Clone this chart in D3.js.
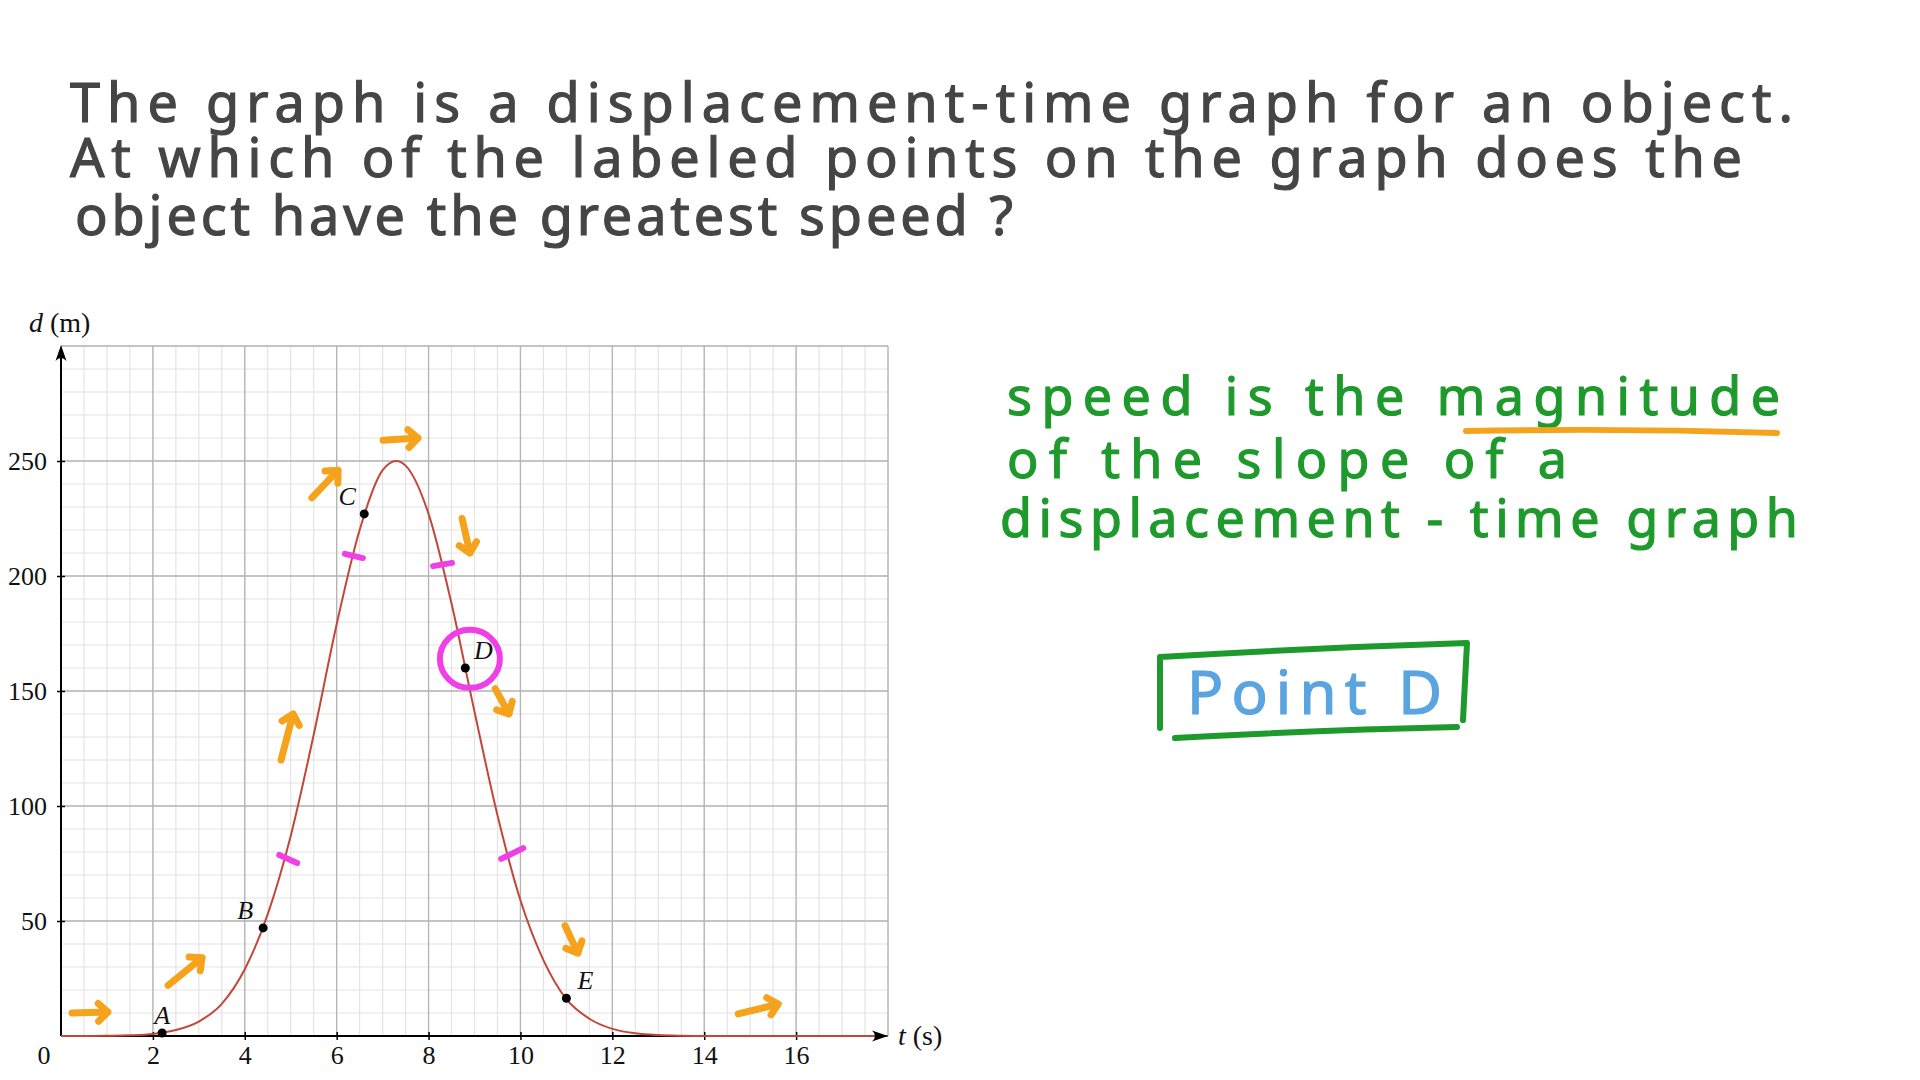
<!DOCTYPE html>
<html>
<head>
<meta charset="utf-8">
<script src="https://cdn.jsdelivr.net/npm/d3@7"></script>
<style>
  body { margin: 0; background: #fff; }
  svg { display: block; }
</style>
</head>
<body>
<svg id="chart"></svg>
<script>
// curve (t in s, d in m)
var times = [0, 0.5, 1, 1.5, 2, 2.5, 3, 3.5, 4, 4.5, 5, 5.5, 6, 6.5, 7, 7.3, 7.5, 8, 8.5, 9, 9.5, 10, 10.5, 11, 11.5, 12, 12.5, 13, 13.5, 14, 15, 16, 17, 18];
var displacement = [0, 0, 0.1, 0.3, 0.9, 2.6, 6.3, 14, 29, 53, 87, 131, 179, 220, 246, 250, 248, 227, 188, 141, 96, 59, 33, 16, 7.5, 3.1, 1.2, 0.4, 0.1, 0, 0, 0, 0, 0];

// labeled points
var pointNames = ["A", "B", "C", "D", "E"];
var pointTimes = [2.2, 4.4, 6.6, 8.8, 11];
var pointValues = [1.3, 47, 227, 160, 16.4];

// ticks
var xTicks = [2, 4, 6, 8, 10, 12, 14, 16];
var yTicks = [50, 100, 150, 200, 250];

// texts
var questionLines = [
  "The graph is a displacement-time graph for an object.",
  "At which of the labeled points on the graph does the",
  "object have the greatest speed ?"
];
var noteLines = [
  "speed is the magnitude",
  "of the slope of a",
  "displacement - time graph"
];
var answerText = "Point D";

// hand-drawn marks, in data units (t, d)
var arrowFrom = [[0.24, 10], [2.33, 22], [4.79, 120], [5.46, 234], [7.01, 259], [8.73, 225], [9.45, 151], [10.97, 48], [14.74, 9.6]];
var arrowTo   = [[1.02, 10.4], [3.07, 34], [5.05, 140], [6.03, 246], [7.77, 260], [8.9, 210], [9.75, 140], [11.25, 36], [15.61, 13.9]];
var dashFrom = [[6.18, 209.6], [8.10, 204.3], [4.75, 78.7], [9.58, 77]];
var dashTo   = [[6.57, 207.8], [8.51, 205.7], [5.14, 75.2], [10.06, 81.7]];
var ringAt = [8.9, 164];

var W = 1920, H = 1080;
var svg = d3.select("#chart").attr("width", W).attr("height", H);

var x = d3.scaleLinear().domain([0, 18]).range([61, 888]);
var y = d3.scaleLinear().domain([0, 300]).range([1036, 346]);

var serif = "'Liberation Serif', 'DejaVu Serif', serif";
var hand = "'Noto Sans', 'Lato', sans-serif";

// grid
var grid = svg.append("g");
grid.selectAll(".vmin").data(d3.range(0, 18.01, 0.5)).enter().append("line")
  .attr("x1", d => x(d)).attr("x2", d => x(d))
  .attr("y1", y(0)).attr("y2", y(300))
  .attr("stroke", "#e4e4e4").attr("stroke-width", 1.2);
grid.selectAll(".hmin").data(d3.range(0, 300.1, 10)).enter().append("line")
  .attr("x1", x(0)).attr("x2", x(18))
  .attr("y1", d => y(d)).attr("y2", d => y(d))
  .attr("stroke", "#e4e4e4").attr("stroke-width", 1.2);
grid.selectAll(".vmaj").data(d3.range(2, 18.01, 2)).enter().append("line")
  .attr("x1", d => x(d)).attr("x2", d => x(d))
  .attr("y1", y(0)).attr("y2", y(300))
  .attr("stroke", "#b4b4b4").attr("stroke-width", 1.3);
grid.selectAll(".hmaj").data(d3.range(50, 300.1, 50)).enter().append("line")
  .attr("x1", x(0)).attr("x2", x(18))
  .attr("y1", d => y(d)).attr("y2", d => y(d))
  .attr("stroke", "#b4b4b4").attr("stroke-width", 1.3);

// axes
var xAxis = svg.append("g")
  .attr("transform", "translate(0," + (y(0) - 4) + ")")
  .call(d3.axisBottom(x).tickValues(xTicks).tickSizeInner(8).tickSizeOuter(0).tickPadding(6));
var yAxis = svg.append("g")
  .attr("transform", "translate(" + (x(0) + 4) + ",0)")
  .call(d3.axisLeft(y).tickValues(yTicks).tickSizeInner(8).tickSizeOuter(0).tickPadding(10));
[xAxis, yAxis].forEach(function(a) {
  a.select(".domain").remove();
  a.selectAll(".tick line").attr("stroke", "#000").attr("stroke-width", 1.5);
  a.selectAll("text").attr("font-family", serif).attr("font-size", 26).attr("fill", "#111");
});
svg.append("text").attr("x", 44).attr("y", 1064)
  .attr("text-anchor", "middle").attr("font-family", serif).attr("font-size", 26).attr("fill", "#111")
  .text("0");

svg.append("line").attr("x1", x(0)).attr("x2", x(18) - 8).attr("y1", y(0)).attr("y2", y(0))
  .attr("stroke", "#000").attr("stroke-width", 2);
svg.append("line").attr("x1", x(0)).attr("x2", x(0)).attr("y1", y(0)).attr("y2", y(300) + 8)
  .attr("stroke", "#000").attr("stroke-width", 2);

// curve
var line = d3.line().x(d => x(d[0])).y(d => y(d[1])).curve(d3.curveMonotoneX);
svg.append("path")
  .datum(times.map((t, i) => [t, displacement[i]]))
  .attr("d", line)
  .attr("fill", "none").attr("stroke", "#c2473a").attr("stroke-width", 2);

// arrowheads on axes
var head = "M0,0 L-16,-5.5 Q-10,0 -16,5.5 Z";
svg.append("path").attr("d", head).attr("fill", "#000")
  .attr("transform", "translate(" + x(18) + "," + y(0) + ")");
svg.append("path").attr("d", head).attr("fill", "#000")
  .attr("transform", "translate(" + x(0) + "," + (y(300) - 1) + ") rotate(-90)");

// axis titles
var yt = svg.append("text").attr("x", 29).attr("y", 332)
  .attr("font-family", serif).attr("font-size", 28).attr("fill", "#111");
yt.append("tspan").attr("font-style", "italic").text("d");
yt.append("tspan").text(" (m)");
var xt = svg.append("text").attr("x", 898).attr("y", 1045)
  .attr("font-family", serif).attr("font-size", 28).attr("fill", "#111");
xt.append("tspan").attr("font-style", "italic").text("t");
xt.append("tspan").text(" (s)");

// points and labels
var labelDx = [0, -18, -17, 18, 19];
var labelDy = [-9, -9, -9, -9, -9];
svg.selectAll(".pt").data(pointNames).enter().append("circle")
  .attr("cx", (d, i) => x(pointTimes[i])).attr("cy", (d, i) => y(pointValues[i]))
  .attr("r", 4.5).attr("fill", "#000");
svg.selectAll(".ptl").data(pointNames).enter().append("text")
  .attr("x", (d, i) => x(pointTimes[i]) + labelDx[i])
  .attr("y", (d, i) => y(pointValues[i]) + labelDy[i])
  .attr("text-anchor", "middle")
  .attr("font-family", serif).attr("font-style", "italic").attr("font-size", 26).attr("fill", "#111")
  .text(d => d);

// magenta ring and dashes
svg.append("ellipse").attr("cx", x(ringAt[0])).attr("cy", y(ringAt[1]))
  .attr("rx", 30).attr("ry", 29)
  .attr("fill", "none").attr("stroke", "#ef3fe6").attr("stroke-width", 6);
svg.selectAll(".dash").data(dashFrom).enter().append("line")
  .attr("x1", d => x(d[0])).attr("y1", d => y(d[1]))
  .attr("x2", (d, i) => x(dashTo[i][0])).attr("y2", (d, i) => y(dashTo[i][1]))
  .attr("stroke", "#ef3fe6").attr("stroke-width", 6).attr("stroke-linecap", "round");

// orange arrows
svg.selectAll(".arr").data(arrowFrom).enter().append("path")
  .attr("d", function(d, i) {
    var x1 = x(d[0]), y1 = y(d[1]), x2 = x(arrowTo[i][0]), y2 = y(arrowTo[i][1]);
    var a = Math.atan2(y2 - y1, x2 - x1), L = 13, s = 0.75;
    return "M" + x1 + "," + y1 + "L" + x2 + "," + y2 +
      "M" + (x2 - L * Math.cos(a - s)) + "," + (y2 - L * Math.sin(a - s)) +
      "L" + x2 + "," + y2 +
      "L" + (x2 - L * Math.cos(a + s)) + "," + (y2 - L * Math.sin(a + s));
  })
  .attr("fill", "none").attr("stroke", "#f5a31c").attr("stroke-width", 7)
  .attr("stroke-linecap", "round").attr("stroke-linejoin", "round");

// question text
var qx = [70, 70, 75], qy = [122, 177, 235], qLen = [1723, 1672, 938];
svg.selectAll(".q").data(questionLines).enter().append("text")
  .attr("x", (d, i) => qx[i]).attr("y", (d, i) => qy[i])
  .attr("textLength", (d, i) => qLen[i]).attr("lengthAdjust", "spacing")
  .attr("font-family", hand).attr("font-size", 54).attr("fill", "#454545")
  .attr("stroke", "#454545").attr("stroke-width", 1.2)
  .text(d => d);

// green note
var nx = [1007, 1007, 1000], ny = [415, 478, 537], nLen = [773, 560, 798];
svg.selectAll(".n").data(noteLines).enter().append("text")
  .attr("x", (d, i) => nx[i]).attr("y", (d, i) => ny[i])
  .attr("textLength", (d, i) => nLen[i]).attr("lengthAdjust", "spacing")
  .attr("font-family", hand).attr("font-size", 52).attr("fill", "#1e9a2c")
  .attr("stroke", "#1e9a2c").attr("stroke-width", 1.2)
  .text(d => d);
svg.append("path").attr("d", "M1466,431 Q1620,428 1777,433")
  .attr("fill", "none").attr("stroke", "#f5a31c").attr("stroke-width", 6).attr("stroke-linecap", "round");

// answer box
svg.append("path")
  .attr("d", "M1160,728 L1160,657 Q1310,648 1467,643 L1463,720 M1175,738 Q1320,730 1457,727")
  .attr("fill", "none").attr("stroke", "#1e9a2c").attr("stroke-width", 6)
  .attr("stroke-linecap", "round").attr("stroke-linejoin", "round");
svg.append("text").attr("x", 1187).attr("y", 714)
  .attr("textLength", 255).attr("lengthAdjust", "spacing")
  .attr("font-family", hand).attr("font-size", 60).attr("fill", "#5aa4df")
  .attr("stroke", "#5aa4df").attr("stroke-width", 1.2)
  .text(answerText);
</script>
</body>
</html>
